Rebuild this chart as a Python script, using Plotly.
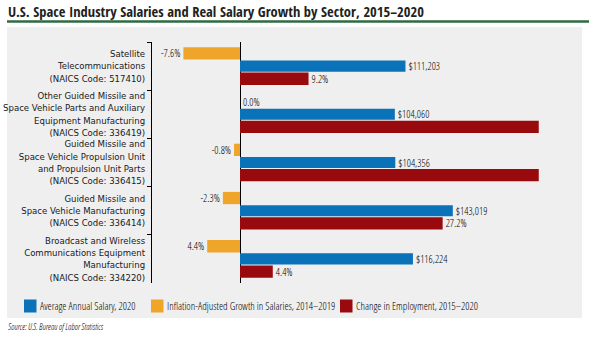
import plotly.graph_objects as go

# Sector names as shown on the category axis
sectors = [
    "Satellite<br>Telecommunications<br>(NAICS Code: 517410)",
    "Other Guided Missile and<br>Space Vehicle Parts and Auxiliary<br>Equipment Manufacturing<br>(NAICS Code: 336419)",
    "Guided Missile and<br>Space Vehicle Propulsion Unit<br>and Propulsion Unit Parts<br>(NAICS Code: 336415)",
    "Guided Missile and<br>Space Vehicle Manufacturing<br>(NAICS Code: 336414)",
    "Broadcast and Wireless<br>Communications Equipment<br>Manufacturing<br>(NAICS Code: 334220)",
]

# Average annual salary, 2020 (USD)
salary = [111203, 104060, 104356, 143019, 116224]
# Inflation-adjusted growth in salaries, 2014-2019 (%)
growth = [-7.6, 0.0, -0.8, -2.3, 4.4]
# Change in employment, 2015-2020 (%)
employment = [9.2, 40.1, 40.1, 27.2, 4.4]
employment_labeled = [True, False, False, True, True]

series_names = [
    "Average Annual Salary, 2020",
    "Inflation-Adjusted Growth in Salaries, 2014–2019",
    "Change in Employment, 2015–2020",
]

BLUE = "#0a72b9"
ORANGE = "#eea52a"
RED = "#990a0e"
PANEL = "#efefef"
INK = "#1a1a1a"
TEXT_FONT = "Open Sans Condensed Light, Liberation Sans Narrow, sans-serif"
TICK_FONT = "DejaVu Sans Condensed, Liberation Sans Narrow, sans-serif"
TITLE_FONT = "Open Sans Condensed, Liberation Sans Narrow, sans-serif"

W, H = 595, 338
# plot area in pixels
PX_LEFT, PX_RIGHT, PX_ZERO = 152, 575, 240
PX_TOP, PX_BOTTOM = 42, 283
PCT_PER_PX = 1 / 7.45          # percent axis scale
USD_PER_PX = 1000 / 1.488      # salary axis scale

pct_range = [-(PX_ZERO - PX_LEFT) * PCT_PER_PX, (PX_RIGHT - PX_ZERO) * PCT_PER_PX]
usd_range = [-(PX_ZERO - PX_LEFT) * USD_PER_PX, (PX_RIGHT - PX_ZERO) * USD_PER_PX]

label_font = dict(family=TEXT_FONT, size=10.5, color="black")

fig = go.Figure()

fig.add_trace(go.Bar(
    name=series_names[0], y=sectors, x=salary, orientation="h", xaxis="x2",
    offset=-0.115, width=0.23, marker=dict(color=BLUE, line=dict(width=0)),
    texttemplate="$%{x:,.0f}", textposition="outside", textfont=label_font,
    constraintext="none", cliponaxis=False, showlegend=False,
))

# growth bars extend left from zero by their magnitude
fig.add_trace(go.Bar(
    name=series_names[1], y=sectors, x=[-abs(g) for g in growth], orientation="h",
    offset=-0.39, width=0.255, marker=dict(color=ORANGE, line=dict(width=0)),
    text=[f"{g:.1f}%" for g in growth], textposition="outside", textfont=label_font,
    constraintext="none", cliponaxis=False, showlegend=False,
))

fig.add_trace(go.Bar(
    name=series_names[2], y=sectors, x=employment, orientation="h",
    offset=0.135, width=0.255, marker=dict(color=RED, line=dict(width=0)),
    text=[f"{e:.1f}%" if show else "" for e, show in zip(employment, employment_labeled)],
    textposition="outside", textfont=label_font,
    constraintext="none", cliponaxis=False, showlegend=False,
))

# legend row inside the panel: swatch + label for each series
legend_colors = [BLUE, ORANGE, RED]
legend_x = [24, 151, 340]
legend_cy = 306
shapes = [
    dict(type="rect", xref="paper", yref="paper", layer="below",
         x0=7 / W, x1=582 / W, y0=1 - 318 / H, y1=1 - 27 / H,
         fillcolor=PANEL, line=dict(width=0)),
    dict(type="line", xref="paper", yref="paper",
         x0=7 / W, x1=589 / W, y0=1 - 21.5 / H, y1=1 - 21.5 / H,
         line=dict(color="#2e6b40", width=2.5)),
]
annotations = [
    dict(text="<b>U.S. Space Industry Salaries and Real Salary Growth by Sector, 2015–2020</b>",
         xref="paper", yref="paper", x=6 / W, y=1 - 11 / H, xanchor="left", yanchor="middle",
         showarrow=False, font=dict(family=TITLE_FONT, size=14.5, color="#231f20")),
    dict(text="<i>Source: U.S. Bureau of Labor Statistics</i>",
         xref="paper", yref="paper", x=6 / W, y=1 - 326 / H, xanchor="left", yanchor="middle",
         showarrow=False, font=dict(family=TEXT_FONT, size=8.5, color="black")),
]
for name, color, lx in zip(series_names, legend_colors, legend_x):
    shapes.append(dict(type="rect", xref="paper", yref="paper",
                       x0=lx / W, x1=(lx + 12.5) / W,
                       y0=1 - (legend_cy + 6.5) / H, y1=1 - (legend_cy - 6.5) / H,
                       fillcolor=color, line=dict(width=0)))
    annotations.append(dict(text=name, xref="paper", yref="paper",
                            x=(lx + 13.5) / W, y=1 - legend_cy / H,
                            xanchor="left", yanchor="middle", showarrow=False,
                            font=dict(family=TEXT_FONT, size=10.6, color="black")))

fig.update_layout(
    width=W, height=H,
    margin=dict(l=0, r=0, t=0, b=0),
    paper_bgcolor="white",
    plot_bgcolor="rgba(0,0,0,0)",
    barmode="overlay",
    showlegend=False,
    font=dict(family=TEXT_FONT, color=INK),
    xaxis=dict(
        domain=[PX_LEFT / W, PX_RIGHT / W], range=pct_range,
        showgrid=False, showticklabels=False, ticks="",
        zeroline=True, zerolinecolor="black", zerolinewidth=1,
    ),
    xaxis2=dict(
        overlaying="x", anchor="y", range=usd_range,
        showgrid=False, showticklabels=False, zeroline=False, visible=False,
    ),
    yaxis=dict(
        domain=[1 - PX_BOTTOM / H, 1 - PX_TOP / H],
        type="category", categoryorder="array", categoryarray=sectors,
        range=[4.5, -0.5],
        showline=True, linecolor="black", linewidth=1,
        ticks="outside", tickson="boundaries", ticklen=4, tickcolor="black",
        ticklabelstandoff=4,
        tickfont=dict(family=TICK_FONT, size=9.5, color=INK),
        showgrid=False,
    ),
    shapes=shapes,
    annotations=annotations,
)

fig.write_html("out.html")
